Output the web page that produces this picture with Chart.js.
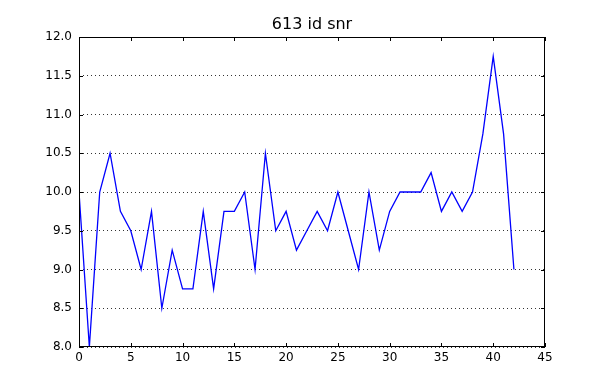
<!DOCTYPE html>
<html>
<head>
<meta charset="utf-8">
<script src="https://cdn.jsdelivr.net/npm/chart.js@4/dist/chart.umd.min.js"></script>
<style>
  html, body { margin: 0; padding: 0; background: #fff; }
  #wrap { width: 600px; height: 378px; }
</style>
</head>
<body>
<div id="wrap"><canvas id="canvas"></canvas></div>
<script>
// snr per index
const idx = [];
for (let i = 0; i <= 42; i++) idx.push(i);
const snr = [10.0, 8.0, 10.0, 10.5, 9.75, 9.5, 9.0, 9.75, 8.5, 9.25,
  8.75, 8.75, 9.75, 8.75, 9.75, 9.75, 10.0, 9.0, 10.5, 9.5,
  9.75, 9.25, 9.5, 9.75, 9.5, 10.0, 9.5, 9.0, 10.0, 9.25,
  9.75, 10.0, 10.0, 10.0, 10.25, 9.75, 10.0, 9.75, 10.0, 10.75,
  11.75, 10.75, 9.0];
const xTicks = [0, 5, 10, 15, 20, 25, 30, 35, 40, 45];
const yTicks = [8.0, 8.5, 9.0, 9.5, 10.0, 10.5, 11.0, 11.5, 12.0];

const font = { family: 'DejaVu Sans', size: 12 };

// box around the plot + ticks pointing inward (matplotlib classic look)
const frame = {
  id: 'frame',
  afterDraw(chart) {
    const { ctx, chartArea: a, scales } = chart;
    ctx.save();
    ctx.strokeStyle = '#000';
    ctx.lineWidth = 1;
    ctx.strokeRect(a.left + 0.5, a.top + 0.5, a.right - a.left - 1, a.bottom - a.top - 1);
    ctx.beginPath();
    xTicks.forEach(v => {
      const px = Math.round(scales.x.getPixelForValue(v)) + 0.5;
      ctx.moveTo(px, a.top); ctx.lineTo(px, a.top + 4);
      ctx.moveTo(px, a.bottom); ctx.lineTo(px, a.bottom - 4);
    });
    yTicks.forEach(v => {
      const py = Math.round(scales.y.getPixelForValue(v)) + 0.5;
      ctx.moveTo(a.left, py); ctx.lineTo(a.left + 4, py);
      ctx.moveTo(a.right, py); ctx.lineTo(a.right - 4, py);
    });
    ctx.stroke();
    ctx.restore();
  }
};

const ctx = document.querySelector('#canvas');
new Chart(ctx, {
  type: 'line',
  data: {
    datasets: [{
      data: idx.map((x, i) => ({ x: x, y: snr[i] })),
      borderColor: '#0000ff',
      borderWidth: 1.3,
      pointRadius: 0,
      tension: 0,
      fill: false
    }]
  },
  options: {
    responsive: true,
    maintainAspectRatio: false,
    animation: false,
    // left padding shifts the title so it sits over the plot centre
    layout: { padding: { left: 24, right: 0, top: 0, bottom: 0 } },
    plugins: {
      legend: { display: false },
      tooltip: { enabled: false },
      title: {
        display: true,
        text: '613 id snr',
        color: '#000',
        font: { family: 'DejaVu Sans', size: 16, weight: 'normal', lineHeight: '19px' },
        padding: { top: 15, bottom: 3 }
      }
    },
    scales: {
      x: {
        type: 'linear',
        min: 0,
        max: 45,
        afterBuildTicks: s => { s.ticks = xTicks.map(v => ({ value: v })); },
        afterFit: s => { s.height = 31; },
        grid: { display: false, drawTicks: false },
        border: { display: false },
        ticks: { color: '#000', font: font, padding: 4, maxRotation: 0 }
      },
      y: {
        min: 8,
        max: 12,
        afterBuildTicks: s => { s.ticks = yTicks.map(v => ({ value: v })); },
        afterFit: s => { s.width = 55; },
        grid: {
          color: '#000',
          lineWidth: 0.8,
          drawTicks: false
        },
        border: { display: false, dash: [1, 3] },
        ticks: {
          color: '#000',
          font: font,
          padding: 7,
          callback: v => v.toFixed(1)
        }
      },
      right: {
        position: 'right',
        min: 8,
        max: 12,
        afterFit: s => { s.width = 55; },
        grid: { display: false, drawTicks: false },
        border: { display: false },
        ticks: { display: false }
      }
    }
  },
  plugins: [frame]
});
</script>
</body>
</html>
